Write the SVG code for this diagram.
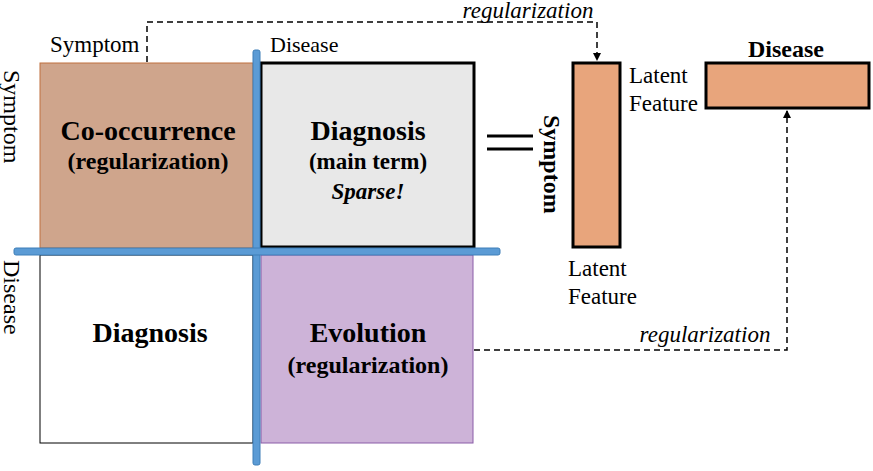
<svg xmlns="http://www.w3.org/2000/svg" width="873" height="471" viewBox="0 0 873 471" font-family="'Liberation Serif','Times New Roman','DejaVu Serif',serif">
<style>
.b{font-weight:bold}
.i{font-style:italic}
.d{fill:none;stroke:#000;stroke-width:1.5;stroke-dasharray:6,4}
.bar{fill:#5b9bd5;stroke:#3f7fb8;stroke-width:1}
</style>
<defs>
<marker id="ar" markerWidth="8" markerHeight="8" refX="7" refY="4" orient="auto" markerUnits="userSpaceOnUse"><path d="M0,0 L8,4 L0,8z" fill="#000"/></marker>
</defs>
<g id="labels">
<text x="50" y="52" font-size="23">Symptom</text>
<text x="270" y="52" font-size="22">Disease</text>
<text transform="translate(4,70) rotate(90)" font-size="24">Symptom</text>
<text transform="translate(4,260) rotate(90)" font-size="24">Disease</text>
</g>
<g id="cooccurrence">
<rect x="40" y="63" width="213" height="185" fill="#cfa58c" stroke="#c0703f" stroke-width="1"/>
<text x="148" y="140" font-size="28" class="b" text-anchor="middle">Co-occurrence</text>
<text x="148" y="169" font-size="24" class="b" text-anchor="middle">(regularization)</text>
</g>
<g id="diagnosis-main">
<rect x="261" y="63" width="213" height="184" fill="#e8e8e8" stroke="#000" stroke-width="3"/>
<text x="368" y="140" font-size="28" class="b" text-anchor="middle">Diagnosis</text>
<text x="368" y="169" font-size="23" class="b" text-anchor="middle">(main term)</text>
<text x="368" y="199" font-size="23" class="b i" text-anchor="middle">Sparse!</text>
</g>
<g id="diagnosis">
<rect x="40" y="255" width="213" height="188" fill="#fff" stroke="#000" stroke-width="1"/>
<text x="150" y="342" font-size="28" class="b" text-anchor="middle">Diagnosis</text>
</g>
<g id="evolution">
<rect x="261" y="255" width="212" height="188" fill="#cdb3d8" stroke="#8a5ca8" stroke-width="1"/>
<text x="368" y="342" font-size="28" class="b" text-anchor="middle">Evolution</text>
<text x="368" y="373" font-size="24" class="b" text-anchor="middle">(regularization)</text>
</g>
<g id="bars">
<rect class="bar" x="253" y="50" width="7" height="415" rx="2"/>
<rect class="bar" x="14" y="248" width="486" height="7" rx="2"/>
</g>
<g id="equals">
<line x1="487" y1="136" x2="533" y2="136" stroke="#000" stroke-width="3"/>
<line x1="487" y1="149" x2="533" y2="149" stroke="#000" stroke-width="3"/>
</g>
<g id="symptom-matrix">
<rect x="573" y="63" width="47" height="184" fill="#e8a57c" stroke="#000" stroke-width="3"/>
<text transform="translate(544,115) rotate(90)" font-size="24" class="b">Symptom</text>
<text x="629" y="83" font-size="23">Latent</text>
<text x="629" y="111" font-size="23">Feature</text>
<text x="568" y="276" font-size="23">Latent</text>
<text x="568" y="304" font-size="23">Feature</text>
</g>
<g id="disease-matrix">
<rect x="706" y="63" width="163" height="45" fill="#e8a57c" stroke="#000" stroke-width="3"/>
<text x="786" y="57" font-size="24" class="b" text-anchor="middle">Disease</text>
</g>
<g id="connectors">
<path class="d" d="M147,62 V22 H597 V60" marker-end="url(#ar)"/>
<path class="d" d="M474,350 H787 V111" marker-end="url(#ar)"/>
<text x="528" y="18" font-size="23" class="i" text-anchor="middle">regularization</text>
<text x="705" y="342" font-size="23" class="i" text-anchor="middle">regularization</text>
</g>
</svg>
